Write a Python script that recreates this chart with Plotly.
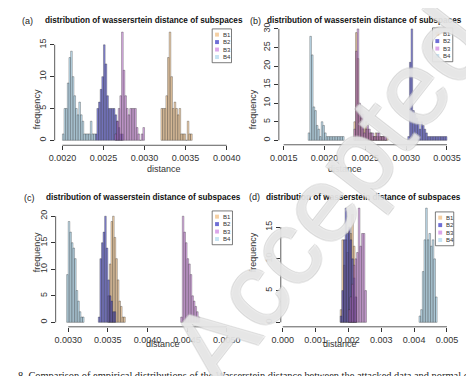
import plotly.graph_objects as go

W, H = 474, 376

SERIES = ["B1", "B2", "B3", "B4"]

# ---------------- data (histogram counts) ----------------
# panel (a)
A_BIN = 0.00002
A_B1_START = 0.00320
A_B1 = [5, 5, 5, 7, 13, 17, 10, 5, 6, 5, 4, 5, 1, 1, 1, 0, 3, 1, 1]
A_B2_START = 0.00240
A_B2 = [1, 5, 6, 8, 10, 15, 12, 7, 5, 5, 5, 5, 4, 3, 2, 1, 1]
A_B3_START = 0.00264
A_B3 = [1, 3, 5, 7, 17, 11, 7, 5, 4, 5, 5, 5, 5, 2, 1, 0, 1, 2]
A_B4_START = 0.00200
A_B4 = [1, 5, 5, 9, 13, 14, 10, 7, 5, 4, 6, 4, 3, 1, 1, 1, 1, 3, 1, 1]

# panel (b)
B_BIN = 0.00002
B_B1_START = 0.00236
B_B1 = [5, 29, 22, 8, 6, 3, 4, 5, 3, 2, 2, 1, 1, 2, 1, 1, 1, 1, 1, 0, 1]
B_B2_START = 0.00302
B_B2 = [1, 21, 30, 8, 7, 6, 5, 3, 5, 4, 3, 2, 1, 1, 1, 1, 1, 1, 1, 1, 1, 1, 1, 1]
B_B3_START = 0.00236
B_B3 = [3, 24, 30, 10, 9, 7, 2, 3, 4, 3, 2, 2, 1, 1, 2, 2, 1, 1, 1, 1]
B_B4_START = 0.00180
B_B4 = [2, 28, 23, 9, 8, 4, 3, 1, 5, 4, 2, 1, 1, 1, 1, 1, 1, 1, 1, 1, 1, 1]

# panel (c)
C_BIN = 0.00002
C_B1_START = 0.00350
C_B1 = [5, 11, 19, 20, 16, 12, 8, 4, 3, 1, 1]
C_B2_START = 0.00338
C_B2 = [1, 12, 15, 17, 20, 14, 8, 5, 4, 2, 2]
C_B3_START = 0.00442
C_B3 = [1, 20, 17, 15, 12, 11, 9, 5, 4, 3, 2, 1]
C_B4_START = 0.00298
C_B4 = [9, 19, 17, 15, 14, 12, 6, 4, 2, 1, 1]

# panel (d)
D_BIN = 0.00005
D_B1_START = 0.00175
D_B1 = [2, 13, 9, 13, 11, 15, 14, 17, 12, 4]
D_B2_START = 0.00175
D_B2 = [1, 5, 13, 18, 14, 15, 13, 10, 7, 4]
D_B3_START = 0.00200
D_B3 = [2, 4, 6, 9, 10, 11, 18, 12, 14, 14, 5]
D_B4_START = 0.00415
D_B4 = [1, 2, 8, 13, 18, 13, 14, 12, 13, 10, 4]

# tick values / labels
A_XTICKS = [0.0020, 0.0025, 0.0030, 0.0035, 0.0040]
A_XLABELS = ["0.0020", "0.0025", "0.0030", "0.0035", "0.0040"]
A_YTICKS = [0, 5, 10, 15]
B_XTICKS = [0.0015, 0.0020, 0.0025, 0.0030, 0.0035]
B_XLABELS = ["0.0015", "0.0020", "0.0025", "0.0030", "0.0035"]
B_YTICKS = [0, 5, 10, 15, 20, 25, 30]
C_XTICKS = [0.0030, 0.0035, 0.0040, 0.0045, 0.0050]
C_XLABELS = ["0.0030", "0.0035", "0.0040", "0.0045", "0.0050"]
C_YTICKS = [0, 5, 10, 15, 20]
D_XTICKS = [0.000, 0.001, 0.002, 0.003, 0.004, 0.005]
D_XLABELS = ["0.000", "0.001", "0.002", "0.003", "0.004", "0.005"]
D_YTICKS = [0, 5, 10, 15]

TAGS = ["(a)", "(b)", "(c)", "(d)"]
TITLES = [
    "distribution of wassersrtein distance of subspaces",
    "distribution of wasserstein distance of subspaces",
    "distribution of wasserstein distance of subspaces",
    "distribution of wasserstein distance of subspaces",
]
XLABEL = "distance"
YLABEL = "frequency"
CAPTION = ("8. Comparison of empirical distributions of the Wasserstein distance "
           "between the attacked data and normal data")
WATERMARK = "Accepted"

# ---------------- styling ----------------
FILL = {
    "B1": "rgba(240,180,110,0.55)",
    "B2": "rgba(60,60,195,0.62)",
    "B3": "rgba(195,110,215,0.55)",
    "B4": "rgba(150,205,235,0.55)",
}
SWATCH = {"B1": "#f5cfa2", "B2": "#6e6ed6", "B3": "#dba6ea", "B4": "#c6e3f3"}
EDGE = "rgba(40,40,40,0.55)"
AXC = "#333333"
FONT = "Liberation Sans, Arial, sans-serif"

panels = [
    dict(data={"B1": (A_B1_START, A_B1), "B2": (A_B2_START, A_B2),
               "B3": (A_B3_START, A_B3), "B4": (A_B4_START, A_B4)}, bin=A_BIN,
         xt=A_XTICKS, xl=A_XLABELS, yt=A_YTICKS,
         L=39, R=224, xc=(0.0020, 47, 0.0040, 217),
         B=136, T=16, yc=(131, 15, 35),
         tag_x=3, title_x=131, title_y=11, ylab_x=13, ylab_y=78, xlab_x=132, xlab_y=160,
         leg=(202, 19, 20, 34)),
    dict(data={"B1": (B_B1_START, B_B1), "B2": (B_B2_START, B_B2),
               "B3": (B_B3_START, B_B3), "B4": (B_B4_START, B_B4)}, bin=B_BIN,
         xt=B_XTICKS, xl=B_XLABELS, yt=B_YTICKS,
         L=271, R=452, xc=(0.0015, 276, 0.0035, 445),
         B=135.5, T=14, yc=(131, 30, 19),
         tag_x=239, title_x=360, title_y=11, ylab_x=244, ylab_y=78, xlab_x=359, xlab_y=160,
         leg=(430, 18, 21, 34)),
    dict(data={"B1": (C_B1_START, C_B1), "B2": (C_B2_START, C_B2),
               "B3": (C_B3_START, C_B3), "B4": (C_B4_START, C_B4)}, bin=C_BIN,
         xt=C_XTICKS, xl=C_XLABELS, yt=C_YTICKS,
         L=40, R=224, xc=(0.0030, 53, 0.0050, 217),
         B=318.5, T=203, yc=(314, 20, 207.3),
         tag_x=5, title_x=131, title_y=189, ylab_x=13, ylab_y=266, xlab_x=131, xlab_y=343,
         leg=(202, 202, 21, 34)),
    dict(data={"B1": (D_B1_START, D_B1), "B2": (D_B2_START, D_B2),
               "B3": (D_B3_START, D_B3), "B4": (D_B4_START, D_B4)}, bin=D_BIN,
         xt=D_XTICKS, xl=D_XLABELS, yt=D_YTICKS,
         L=273, R=452, xc=(0.0, 275, 0.005, 445),
         B=318.5, T=194, yc=(314, 15, 218.3),
         tag_x=238, title_x=359, title_y=188, ylab_x=244, ylab_y=266, xlab_x=354, xlab_y=343,
         leg=(433, 203, 19, 34)),
]


def px(x):
    return x / W


def py(y):
    return 1 - y / H


fig = go.Figure()
layout = dict(
    width=W, height=H, margin=dict(l=0, r=0, t=0, b=0),
    paper_bgcolor="white", plot_bgcolor="white",
    barmode="overlay", showlegend=False,
    font=dict(family=FONT, color=AXC),
)
shapes = []
annotations = []

for k, p in enumerate(panels, start=1):
    sfx = "" if k == 1 else str(k)
    xa, ya = f"x{sfx}", f"y{sfx}"
    for s in SERIES:
        start, counts = p["data"][s]
        centers = [start + (i + 0.5) * p["bin"] for i in range(len(counts))]
        fig.add_trace(go.Bar(
            x=centers, y=counts, width=p["bin"], xaxis=xa, yaxis=ya,
            marker=dict(color=FILL[s], line=dict(color=EDGE, width=0.6)),
            name=s, hoverinfo="skip",
        ))
    v1, p1, v2, p2 = p["xc"]
    sx = (p2 - p1) / (v2 - v1)
    xr = [v1 + (p["L"] - p1) / sx, v1 + (p["R"] - p1) / sx]
    p0, vv, pv = p["yc"]
    sy = (p0 - pv) / vv
    yr = [(p0 - p["B"]) / sy, (p0 - p["T"]) / sy]
    common = dict(showgrid=False, zeroline=False, showline=False, ticks="outside",
                  ticklen=4, tickwidth=0.8, tickcolor=AXC, fixedrange=True,
                  tickfont=dict(family=FONT, size=9, color=AXC))
    layout[f"xaxis{sfx}"] = dict(domain=[px(p["L"]), px(p["R"])], range=xr, anchor=ya,
                                 tickmode="array", tickvals=p["xt"], ticktext=p["xl"], **common)
    layout[f"yaxis{sfx}"] = dict(domain=[py(p["B"]), py(p["T"])], range=yr, anchor=xa,
                                 tickmode="array", tickvals=p["yt"],
                                 ticktext=[str(v) for v in p["yt"]], tickangle=-90, **common)
    # R-style axis lines spanning first..last tick
    shapes.append(dict(type="line", xref=xa, yref=f"{ya} domain", x0=p["xt"][0], x1=p["xt"][-1],
                       y0=0, y1=0, line=dict(color=AXC, width=0.8)))
    shapes.append(dict(type="line", xref=f"{xa} domain", yref=ya, x0=0, x1=0,
                       y0=p["yt"][0], y1=p["yt"][-1], line=dict(color=AXC, width=0.8)))
    # titles
    annotations.append(dict(text=TAGS[k - 1], x=px(p["tag_x"]), y=py(p["title_y"]), xref="paper",
                            yref="paper", xanchor="left", yanchor="middle", showarrow=False,
                            font=dict(family=FONT, size=9, color="#222")))
    annotations.append(dict(text=f"<b>{TITLES[k - 1]}</b>", x=px(p["title_x"]), y=py(p["title_y"]),
                            xref="paper", yref="paper", xanchor="center", yanchor="middle",
                            showarrow=False, font=dict(family=FONT, size=8.2, color="#111")))
    annotations.append(dict(text=YLABEL, x=px(p["ylab_x"]), y=py(p["ylab_y"]), xref="paper",
                            yref="paper", textangle=-90, showarrow=False,
                            font=dict(family=FONT, size=9, color=AXC)))
    annotations.append(dict(text=XLABEL, x=px(p["xlab_x"]), y=py(p["xlab_y"]), xref="paper",
                            yref="paper", showarrow=False,
                            font=dict(family=FONT, size=9, color=AXC)))
    # legend box
    lx, ly, lw, lh = p["leg"]
    shapes.append(dict(type="rect", xref="paper", yref="paper", x0=px(lx), x1=px(lx + lw),
                       y0=py(ly + lh), y1=py(ly), line=dict(color="#444", width=0.7),
                       fillcolor="white"))
    step = (lh - 4) / 4
    for i, s in enumerate(SERIES):
        cy = ly + 2 + step * (i + 0.5)
        shapes.append(dict(type="rect", xref="paper", yref="paper", x0=px(lx + 3), x1=px(lx + 7),
                           y0=py(cy + 2), y1=py(cy - 2), line=dict(width=0), fillcolor=SWATCH[s]))
        annotations.append(dict(text=s, x=px(lx + 9), y=py(cy), xref="paper", yref="paper",
                                xanchor="left", yanchor="middle", showarrow=False,
                                font=dict(family=FONT, size=6, color="#333")))

# caption
annotations.append(dict(text=CAPTION, x=px(-1), y=py(367), xref="paper", yref="paper",
                        xanchor="left", yanchor="middle", showarrow=False,
                        font=dict(family="Liberation Serif, Times New Roman, serif", size=10.4,
                                  color="#222")))
# watermark
annotations.append(dict(text=WATERMARK, x=px(322), y=py(186), xref="paper", yref="paper",
                        xanchor="center", yanchor="middle", showarrow=False, textangle=-52,
                        font=dict(family=FONT, size=106, color="rgba(255,255,255,0.5)",
                                  shadow="1px 1px 0 rgba(200,200,200,0.85), -1px -1px 0 rgba(200,200,200,0.85), 1px -1px 0 rgba(200,200,200,0.85), -1px 1px 0 rgba(200,200,200,0.85)")))

layout["shapes"] = shapes
layout["annotations"] = annotations
fig.update_layout(**layout)
fig.write_html("out.html")
